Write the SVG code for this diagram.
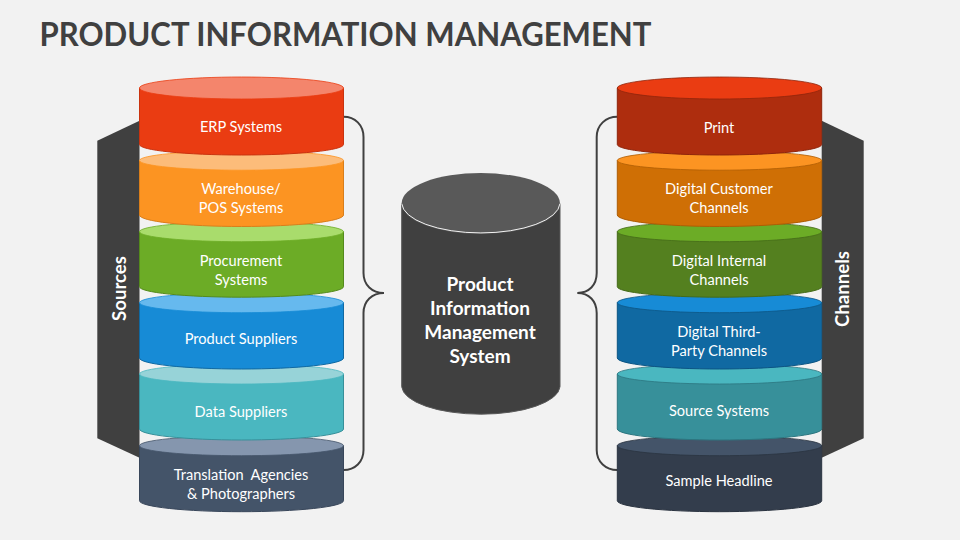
<svg xmlns="http://www.w3.org/2000/svg" width="960" height="540" viewBox="0 0 960 540">
<style>
text{font-family:Lato,"Liberation Sans",sans-serif;fill:#fff;text-anchor:middle;font-size:14.6px;white-space:pre}
.title{font-size:32.5px;font-weight:700;fill:#404040;text-anchor:start}
.c{font-size:19px;font-weight:700}
.s{font-size:18.6px;font-weight:700}
.brace{fill:none;stroke:#404040;stroke-width:2}
.band{fill:#404040}
.top{stroke-width:.8}
.red{fill:#ea3c12;stroke:#c9330f}.redt{fill:#f4856c;stroke:#ea3c12}
.ora{fill:#fc9422;stroke:#d97e1b}.orat{fill:#fcbc7a;stroke:#fc9422}
.gre{fill:#6cac26;stroke:#548a1c}.gret{fill:#a9dc6c;stroke:#6cac26}
.blu{fill:#178bd6;stroke:#1069a2}.blut{fill:#66b9ee;stroke:#178bd6}
.tea{fill:#4ab7c0;stroke:#37909a}.teat{fill:#97d3d8;stroke:#4ab7c0}
.nav{fill:#445469;stroke:#38465a}.navt{fill:#8596ae;stroke:#445469}
.dre{fill:#ae2d0e;stroke:#8f250b}.dret{fill:#ea3c12;stroke:#8f250b}
.dor{fill:#cf6f05;stroke:#ae5d04}.dort{fill:#fc9422;stroke:#ae5d04}
.dgr{fill:#54801f;stroke:#446a18}.dgrt{fill:#6cac26;stroke:#446a18}
.dbl{fill:#1069a2;stroke:#0c5584}.dblt{fill:#178bd6;stroke:#0c5584}
.dte{fill:#37909a;stroke:#2c7680}.dtet{fill:#4ab7c0;stroke:#2c7680}
.dna{fill:#333d4c;stroke:#2a3340}.dnat{fill:#445469;stroke:#2a3340}
.cen{fill:#404040;stroke:#595959}.cent{fill:#595959}.cena{fill:none;stroke:#f2f2f2}
</style>
<rect width="960" height="540" fill="#f2f2f2"/>
<text class="title" x="39.5" y="45.5" textLength="612" lengthAdjust="spacingAndGlyphs">PRODUCT INFORMATION MANAGEMENT</text>

<g id="sources-band"><polygon class="band" points="139.5,120.7 97.3,140.7 97.3,438.3 139.5,457.7"/><text class="s" transform="translate(125.5,288.5) rotate(-90)">Sources</text></g>
<g id="channels-band"><polygon class="band" points="821.7,120.7 863.7,140.7 863.7,438.3 821.7,457.7"/><text class="s" transform="translate(848.5,289) rotate(-90)">Channels</text></g>

<g id="connectors">
<path class="brace" d="M343.5,116.7C355,116.7 363.5,125 363.5,137V273C363.5,285 372,293 384,293C372,293 363.5,301 363.5,313V450C363.5,462 355,470 343.5,470"/>
<path class="brace" d="M617.3,116.7C605.8,116.7 596.7,125 596.7,137V273C596.7,285 589,293 577.3,293C589,293 596.7,301 596.7,313V450C596.7,462 605.8,470 617.3,470"/>
</g>

<g id="src-translation"><path class="nav" d="M139.5,445.7V500.7A102,11 0 0 0 343.5,500.7V445.7Z"/><ellipse class="navt top" cx="241.5" cy="445.7" rx="102" ry="10"/><text x="241" y="480">Translation  Agencies</text><text x="241" y="499">&amp; Photographers</text></g>
<g id="src-data"><path class="tea" d="M139.5,374V429A102,11 0 0 0 343.5,429V374Z"/><ellipse class="teat top" cx="241.5" cy="374" rx="102" ry="10"/><text x="241" y="417">Data Suppliers</text></g>
<g id="src-product"><path class="blu" d="M139.5,302.7V358A102,11 0 0 0 343.5,358V302.7Z"/><ellipse class="blut top" cx="241.5" cy="302.7" rx="102" ry="10"/><text x="241" y="344">Product Suppliers</text></g>
<g id="src-procurement"><path class="gre" d="M139.5,231.7V286.7A102,10.5 0 0 0 343.5,286.7V231.7Z"/><ellipse class="gret top" cx="241.5" cy="231.7" rx="102" ry="10"/><text x="241" y="266">Procurement</text><text x="241" y="285">Systems</text></g>
<g id="src-warehouse"><path class="ora" d="M139.5,160.5V215A102,11.5 0 0 0 343.5,215V160.5Z"/><ellipse class="orat top" cx="241.5" cy="160.5" rx="102" ry="9.7"/><text x="241" y="194">Warehouse/</text><text x="241" y="213">POS Systems</text></g>
<g id="src-erp"><path class="red" d="M139.5,88V144.5A102,10.5 0 0 0 343.5,144.5V88Z"/><ellipse class="redt top" cx="241.5" cy="88" rx="102" ry="11"/><text x="241" y="132">ERP Systems</text></g>

<g id="ch-sample"><path class="dna" d="M617.3,445.7V500.7A102.2,11 0 0 0 821.7,500.7V445.7Z"/><ellipse class="dnat top" cx="719.5" cy="445.7" rx="102.2" ry="10"/><text x="719" y="486">Sample Headline</text></g>
<g id="ch-source"><path class="dte" d="M617.3,374V429A102.2,11 0 0 0 821.7,429V374Z"/><ellipse class="dtet top" cx="719.5" cy="374" rx="102.2" ry="10"/><text x="719" y="416">Source Systems</text></g>
<g id="ch-third"><path class="dbl" d="M617.3,302.7V358A102.2,11 0 0 0 821.7,358V302.7Z"/><ellipse class="dblt top" cx="719.5" cy="302.7" rx="102.2" ry="10"/><text x="719" y="337">Digital Third-</text><text x="719" y="356">Party Channels</text></g>
<g id="ch-internal"><path class="dgr" d="M617.3,231.7V286.7A102.2,10.5 0 0 0 821.7,286.7V231.7Z"/><ellipse class="dgrt top" cx="719.5" cy="231.7" rx="102.2" ry="10"/><text x="719" y="266">Digital Internal</text><text x="719" y="285">Channels</text></g>
<g id="ch-customer"><path class="dor" d="M617.3,160.5V215A102.2,11.5 0 0 0 821.7,215V160.5Z"/><ellipse class="dort top" cx="719.5" cy="160.5" rx="102.2" ry="9.7"/><text x="719" y="194">Digital Customer</text><text x="719" y="213">Channels</text></g>
<g id="ch-print"><path class="dre" d="M617.3,88V144.5A102.2,10.5 0 0 0 821.7,144.5V88Z"/><ellipse class="dret top" cx="719.5" cy="88" rx="102.2" ry="11"/><text x="719" y="133">Print</text></g>

<g id="center"><path class="cen" d="M401.7,203.5V386.7A79.2,28.5 0 0 0 560,386.7V203.5Z"/><ellipse class="cent" cx="480.8" cy="203.5" rx="79.2" ry="30.5"/><path class="cena" d="M401.7,203.5A79.2,30.5 0 0 0 560,203.5"/><text class="c" x="480" y="291">Product</text><text class="c" x="480" y="315">Information</text><text class="c" x="480" y="339">Management</text><text class="c" x="480" y="363">System</text></g>
</svg>
